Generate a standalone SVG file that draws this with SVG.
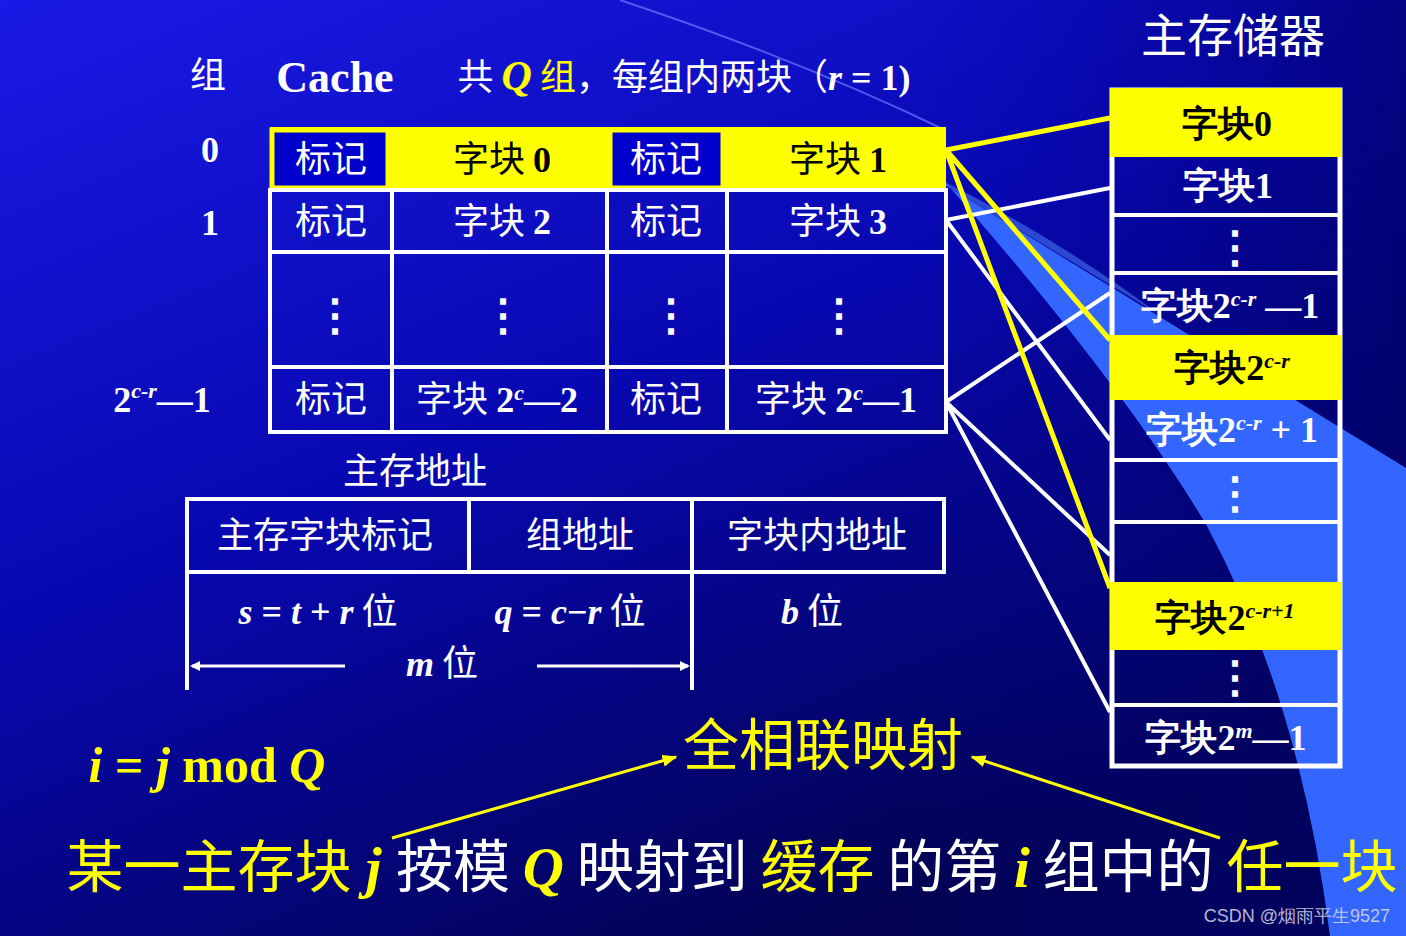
<svg xmlns="http://www.w3.org/2000/svg" width="1406" height="936" viewBox="0 0 1406 936">
<defs>
<linearGradient id="bg" x1="0" y1="0" x2="0.6" y2="1"><stop offset="0" stop-color="#1a1ae6"/><stop offset="0.5" stop-color="#0808b0"/><stop offset="1" stop-color="#020250"/></linearGradient>
<linearGradient id="tr" x1="0" y1="0" x2="1" y2="0"><stop offset="0" stop-color="#0000a0" stop-opacity="0"/><stop offset="1" stop-color="#000060"/></linearGradient>
<marker id="ah" viewBox="0 0 10 10" refX="9" refY="5" markerWidth="5" markerHeight="5" orient="auto"><path d="M0,1 L10,5 L0,9 z" fill="#ffff00"/></marker>
<style>
.c{font-family:"Noto Sans CJK SC","Liberation Serif",serif;fill:#fff;font-size:36px;text-anchor:middle}
.r{font-family:"Liberation Serif",serif;font-weight:bold}
.i{font-family:"Liberation Serif",serif;font-weight:bold;font-style:italic}
.s{font-size:22px}
.k{fill:#000}
.y{fill:#ffff00}
.wt{fill:#fff}
.w{fill:none;stroke:#fff;stroke-width:5}
.cell{fill:none;stroke:#fff;stroke-width:4}
.ln{stroke:#fff;stroke-width:4}
.yl{stroke:#ffff00;stroke-width:5}
</style>
</defs>
<rect width="1406" height="936" fill="url(#bg)"/>
<rect x="900" width="506" height="936" fill="url(#tr)" opacity="0.6"/>
<path d="M945,185 L1406,468 L1406,936 L1330,936 Q1300,700 1207,526 Q1120,380 945,182 Z" fill="#3366ff"/>
<path d="M945,185 L1160,315 Q1060,240 945,182 Z" fill="#4477ee" opacity="0.6"/>
<path d="M620,0 Q800,60 945,130" fill="none" stroke="#6a7cff" stroke-width="2" opacity="0.7"/>

<text class="c" x="1233" y="52" style="font-size:46px">主存储器</text>
<text class="c" x="208" y="88">组</text>
<text class="c r" x="335" y="92" style="font-size:44px">Cache</text>
<text class="c" x="684" y="90"><tspan>共 </tspan><tspan class="i y" style="font-size:42px">Q</tspan><tspan class="y"> 组</tspan><tspan>，每组内两块（</tspan><tspan class="i">r</tspan><tspan class="r"> = 1)</tspan></text>
<text class="c r" x="210" y="162">0</text>
<text class="c r" x="210" y="235">1</text>
<text class="c r" x="162" y="412">2<tspan class="i s" dy="-14">c-r</tspan><tspan dy="14">—1</tspan></text>

<g id="cache">
<rect x="270" y="127" width="676" height="64" fill="#ffff00"/>
<rect x="272" y="130" width="116" height="58" fill="#0000cc" stroke="#ffff00" stroke-width="5"/>
<rect x="610" y="130" width="113" height="58" fill="#0000cc" stroke="#ffff00" stroke-width="5"/>
<rect x="270" y="190" width="676" height="242" fill="none" stroke="#fff" stroke-width="4"/>
<path class="cell" d="M392,190V432M607,190V432M727,190V432M270,252H946M270,367H946"/>
<text class="c" x="331" y="172">标记</text><text class="c k" x="502" y="172">字块 <tspan class="r">0</tspan></text>
<text class="c" x="666" y="172">标记</text><text class="c k" x="838" y="172">字块 <tspan class="r">1</tspan></text>
<text class="c" x="331" y="234">标记</text><text class="c" x="502" y="234">字块 <tspan class="r">2</tspan></text>
<text class="c" x="666" y="234">标记</text><text class="c" x="838" y="234">字块 <tspan class="r">3</tspan></text>
<text class="c r" x="335" y="330" style="font-size:44px">⋮</text><text class="c r" x="503" y="330" style="font-size:44px">⋮</text>
<text class="c r" x="671" y="330" style="font-size:44px">⋮</text><text class="c r" x="839" y="330" style="font-size:44px">⋮</text>
<text class="c" x="331" y="412">标记</text><text class="c" x="497" y="412">字块 <tspan class="r">2</tspan><tspan class="i s" dy="-12">c</tspan><tspan class="r" dy="12">—2</tspan></text>
<text class="c" x="666" y="412">标记</text><text class="c" x="836" y="412">字块 <tspan class="r">2</tspan><tspan class="i s" dy="-12">c</tspan><tspan class="r" dy="12">—1</tspan></text>
</g>

<g id="addr">
<text class="c" x="415" y="484">主存地址</text>
<rect class="cell" x="187" y="499" width="757" height="73"/>
<path class="cell" d="M469,499V572M692,499V690M187,572V690"/>
<text class="c" x="325" y="548">主存字块标记</text>
<text class="c" x="580" y="548">组地址</text>
<text class="c" x="817" y="548">字块内地址</text>
<text class="c" x="318" y="624"><tspan class="i">s</tspan><tspan class="r"> = </tspan><tspan class="i">t</tspan><tspan class="r"> + </tspan><tspan class="i">r</tspan>  位</text>
<text class="c" x="570" y="624"><tspan class="i">q</tspan><tspan class="r"> = </tspan><tspan class="i">c</tspan><tspan class="r">−</tspan><tspan class="i">r</tspan> 位</text>
<text class="c" x="812" y="624"><tspan class="i">b</tspan> 位</text>
<text class="c" x="442" y="676"><tspan class="i">m</tspan> 位</text>
<line x1="345" y1="666" x2="192" y2="666" stroke="#fff" stroke-width="3"/>
<line x1="537" y1="666" x2="688" y2="666" stroke="#fff" stroke-width="3"/>
<path d="M190,666l10,-5v10z M690,666l-10,-5v10z" fill="#fff"/>
</g>

<g id="memory">
<rect class="w" x="1112" y="90" width="228" height="676"/>
<rect x="1110" y="88" width="232" height="69" fill="#ffff00"/>
<rect x="1110" y="335" width="232" height="65" fill="#ffff00"/>
<rect x="1110" y="582" width="232" height="68" fill="#ffff00"/>
<path class="cell" d="M1112,215H1340M1112,273H1340M1112,460H1340M1112,522H1340M1112,705H1340"/>
<text class="c k r" x="1227" y="136">字块0</text>
<text class="c r" x="1228" y="198">字块1</text>
<text class="c r" x="1235" y="262" style="font-size:44px">⋮</text>
<text class="c r" x="1230" y="318">字块2<tspan class="i s" dy="-12">c-r</tspan><tspan dy="12"> —1</tspan></text>
<text class="c k r" x="1232" y="380">字块2<tspan class="i s" dy="-12">c-r</tspan></text>
<text class="c r" x="1232" y="442">字块2<tspan class="i s" dy="-12">c-r</tspan><tspan dy="12"> + 1</tspan></text>
<text class="c r" x="1235" y="508" style="font-size:44px">⋮</text>
<text class="c k r" x="1225" y="630">字块2<tspan class="i s" dy="-12">c-r+1</tspan></text>
<text class="c r" x="1235" y="692" style="font-size:44px">⋮</text>
<text class="c r" x="1226" y="750">字块2<tspan class="i s" dy="-12">m</tspan><tspan dy="12">—1</tspan></text>
</g>

<g id="connectors">
<path class="ln" d="M946,220L1110,188M946,220L1110,440M946,402L1110,293M946,402L1110,555M946,402L1110,712"/>
<path class="yl" d="M946,150L1110,118M946,150L1110,340M946,150L1110,588"/>
<line x1="392" y1="838" x2="676" y2="757" stroke="#ffff00" stroke-width="3" marker-end="url(#ah)"/>
<line x1="1220" y1="838" x2="972" y2="757" stroke="#ffff00" stroke-width="3" marker-end="url(#ah)"/>
</g>

<text class="c i y" x="207" y="782" style="font-size:50px">i<tspan class="r" style="font-style:normal"> = </tspan>j<tspan class="r" style="font-style:normal"> mod </tspan>Q</text>
<text class="c y" x="823" y="765" style="font-size:56px">全相联映射</text>
<text class="c" x="732" y="887" style="font-size:57px"><tspan class="y">某一主存块</tspan><tspan class="i y"> j </tspan><tspan class="wt">按模 </tspan><tspan class="i y">Q</tspan><tspan class="wt"> 映射到 </tspan><tspan class="y">缓存</tspan><tspan class="wt"> 的第 </tspan><tspan class="i y">i</tspan><tspan class="wt"> 组中的 </tspan><tspan class="y">任一块</tspan></text>
<text x="1390" y="922" font-family="Liberation Sans,sans-serif" font-size="18" fill="#d8d8e8" text-anchor="end" opacity="0.85">CSDN @烟雨平生9527</text>
</svg>
